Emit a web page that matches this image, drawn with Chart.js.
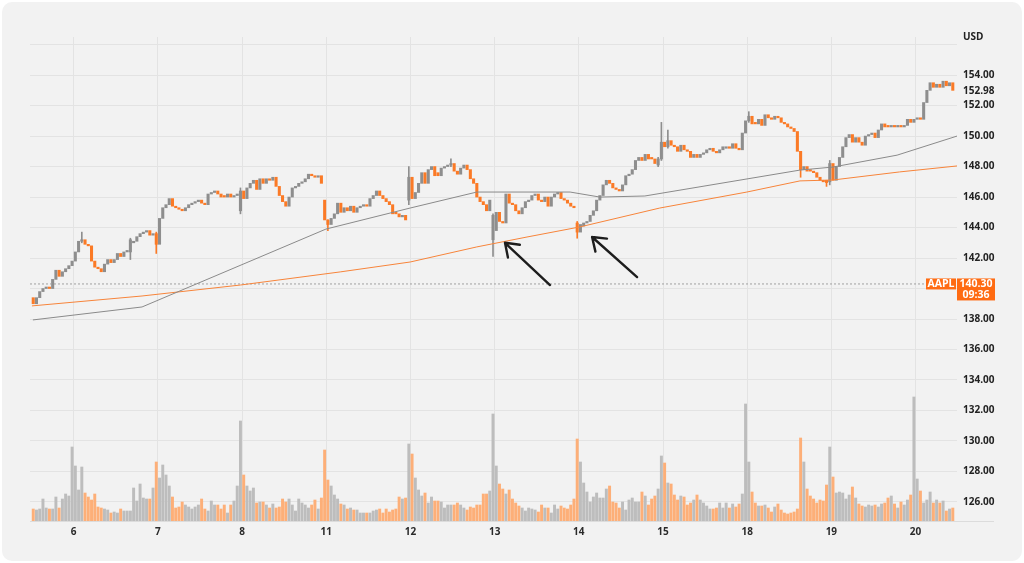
<!DOCTYPE html>
<html>
<head>
<meta charset="utf-8">
<title>AAPL 15 min</title>
<style>
  html, body { margin: 0; padding: 0; background: #fff; }
  .panel { position: absolute; left: 2px; top: 2px; width: 1020px; height: 559px; background: #f2f2f2; border-radius: 10px; }
  .chart-box { position: absolute; left: 0; top: 0; width: 1024px; height: 563px; }
</style>
</head>
<body>
<div class="panel"></div>
<div class="chart-box"><canvas id="priceChart"></canvas></div>

<script src="https://cdn.jsdelivr.net/npm/chart.js@4"></script>
<script>
// 15 minute candles, index 0 = first bar on screen (5th, afternoon)
const dayLabels = ['6', '7', '8', '11', '12', '13', '14', '15', '18', '19', '20'];
const dayTickPos = [12.5, 38.5, 64.5, 90.5, 116.5, 142.5, 168.5, 194.5, 220.5, 246.5, 272.5];

const opens = [
  139.4, 139.0, 139.4, 139.8, 140.0, 140.1, 140.0, 140.6, 141.2, 140.8, 141.1, 141.3,
  141.5, 141.8, 142.4, 143.1, 143.2, 142.9, 142.8, 141.8, 141.4, 141.3, 141.1, 141.6, 141.9, 141.7, 141.9, 142.3, 142.1, 142.4, 142.4, 143.0, 143.1, 143.4, 143.6, 143.7, 143.8, 143.5,
  143.6, 142.9, 144.6, 145.3, 145.5, 145.9, 145.4, 145.3, 145.2, 145.1, 145.3, 145.5, 145.6, 145.7, 145.8, 145.6, 145.5, 146.2, 146.3, 146.4, 146.2, 146.1, 146.0, 146.2, 146.0, 146.1,
  145.1, 146.4, 145.9, 146.6, 146.9, 147.1, 146.5, 147.2, 146.9, 147.2, 147.1, 147.3, 146.7, 146.1, 145.7, 145.4, 146.0, 146.6, 146.7, 146.9, 147.0, 147.2, 147.5, 147.4, 147.3, 147.4,
  145.8, 144.5, 144.2, 144.6, 144.9, 145.6, 145.0, 145.3, 145.1, 145.4, 145.0, 145.3, 145.4, 145.5, 145.4, 145.9, 146.1, 146.4, 146.1, 145.9, 145.7, 145.5, 145.0, 144.9, 144.7, 144.8,
  145.8, 147.3, 145.9, 146.3, 146.9, 147.6, 146.9, 147.8, 148.0, 147.6, 147.4, 147.9, 148.0, 148.1, 148.2, 147.7, 147.5, 147.9, 148.1, 147.8, 147.2, 146.9, 146.0, 145.7, 145.5, 145.1,
  143.2, 143.8, 145.0, 144.4, 144.3, 146.2, 145.6, 145.5, 145.1, 144.9, 145.3, 145.7, 145.8, 146.1, 146.2, 145.8, 145.7, 146.0, 145.4, 146.0, 146.2, 146.3, 145.9, 145.8, 145.6, 145.4,
  144.3, 143.7, 144.1, 144.3, 144.4, 144.8, 145.1, 145.8, 146.1, 146.8, 147.1, 146.9, 146.6, 146.5, 146.4, 146.8, 147.4, 147.5, 147.8, 148.4, 148.6, 148.4, 148.8, 148.6, 148.5, 148.1,
  148.5, 149.6, 149.3, 149.7, 149.4, 149.3, 149.0, 149.4, 149.1, 149.0, 148.6, 148.8, 148.6, 148.8, 148.9, 149.1, 149.2, 149.0, 148.9, 149.1, 149.2, 149.3, 149.2, 149.5, 149.2, 149.1,
  150.2, 151.0, 151.3, 150.9, 150.8, 151.1, 150.7, 151.4, 151.2, 151.1, 151.3, 151.2, 150.9, 150.8, 150.6, 150.5, 150.3, 149.0, 147.8, 148.0, 147.8, 147.7, 147.6, 147.3, 147.1, 147.1,
  147.0, 148.2, 147.1, 148.0, 148.6, 149.3, 149.9, 150.1, 149.6, 149.9, 149.6, 149.4, 150.0, 150.1, 150.2, 149.9, 150.4, 150.8, 150.7, 150.6, 150.7, 150.6, 150.7, 150.6, 150.7, 151.1,
  150.9, 151.1, 151.2, 151.1, 152.2, 153.0, 153.5, 153.2, 153.4, 153.2, 153.6, 153.3, 153.5
];

const closes = [
  139.0, 139.4, 139.8, 140.0, 140.1, 140.0, 140.6, 141.2, 140.8, 141.1, 141.3, 141.5,
  141.8, 142.4, 143.1, 143.2, 142.9, 142.8, 141.8, 141.4, 141.3, 141.1, 141.6, 141.9, 141.7, 141.9, 142.3, 142.1, 142.4, 142.5, 143.2, 143.1, 143.4, 143.6, 143.7, 143.8, 143.5, 143.6,
  142.9, 144.6, 145.3, 145.5, 145.9, 145.4, 145.3, 145.2, 145.1, 145.3, 145.5, 145.6, 145.7, 145.8, 145.6, 145.5, 146.2, 146.3, 146.4, 146.2, 146.0, 146.0, 146.2, 146.0, 146.1, 146.2,
  146.4, 145.9, 146.6, 146.9, 147.1, 146.5, 147.2, 146.9, 147.2, 147.1, 147.3, 146.7, 146.1, 145.7, 145.4, 146.0, 146.6, 146.7, 146.9, 147.0, 147.2, 147.5, 147.4, 147.3, 147.4, 146.9,
  144.5, 144.2, 144.6, 144.9, 145.6, 145.0, 145.3, 145.1, 145.4, 145.0, 145.3, 145.4, 145.5, 145.4, 145.9, 146.1, 146.4, 146.1, 145.9, 145.7, 145.5, 144.9, 144.9, 144.7, 144.8, 144.5,
  147.3, 145.9, 146.3, 146.9, 147.6, 146.9, 147.8, 148.0, 147.4, 147.4, 147.9, 148.0, 148.1, 148.2, 147.7, 147.5, 147.9, 148.1, 147.8, 147.2, 146.9, 146.0, 145.7, 145.5, 145.1, 145.8,
  144.8, 145.0, 144.4, 144.3, 146.2, 145.6, 145.5, 145.1, 144.9, 145.3, 145.7, 145.8, 146.1, 146.2, 145.8, 145.7, 146.0, 145.4, 146.0, 146.2, 146.3, 145.9, 145.8, 145.6, 145.4, 145.3,
  143.7, 144.2, 144.3, 144.4, 144.8, 145.1, 145.8, 146.1, 146.8, 147.1, 146.9, 146.6, 146.5, 146.4, 146.8, 147.4, 147.5, 147.8, 148.4, 148.6, 148.4, 148.8, 148.5, 148.5, 148.2, 148.5,
  149.6, 149.3, 149.7, 149.4, 149.3, 149.0, 149.4, 149.1, 149.0, 148.6, 148.8, 148.6, 148.8, 148.9, 149.1, 149.2, 149.0, 148.9, 149.1, 149.3, 149.3, 149.2, 149.5, 149.2, 149.1, 150.2,
  151.0, 151.3, 150.8, 150.8, 151.1, 150.7, 151.4, 151.2, 151.1, 151.3, 151.2, 150.9, 150.8, 150.6, 150.5, 150.3, 149.0, 147.8, 148.0, 147.7, 147.7, 147.6, 147.3, 147.1, 147.0, 146.95,
  148.2, 147.1, 148.0, 148.6, 149.3, 149.9, 150.1, 149.6, 149.9, 149.6, 149.4, 150.0, 150.1, 150.2, 149.9, 150.4, 150.8, 150.6, 150.6, 150.7, 150.6, 150.7, 150.6, 150.7, 151.1, 150.9,
  151.1, 151.2, 151.1, 152.2, 153.0, 153.5, 153.2, 153.4, 153.2, 153.6, 153.3, 153.5, 153.0
];

// candles with a visible shadow beyond the body
const wickIdx  = [15, 30, 38, 64, 91, 116, 129, 142, 168, 193, 194, 196, 221, 237, 245, 246];
const wickLow  = [143.0, 141.9, 142.3, 144.9, 143.8, 145.5, 148.0, 142.1, 143.3, 148.0, 148.4, 149.2, 150.9, 147.3, 146.7, 146.8];
const wickHigh = [143.7, 143.3, 143.7, 146.6, 144.5, 148.0, 148.5, 144.9, 144.4, 148.6, 150.9, 150.4, 151.6, 149.0, 147.1, 148.4];

// volume (10k shares)
const volumes = [
  12, 11, 12, 22, 13, 12, 12, 24, 13, 22, 27, 25,
  74, 55, 31, 54, 28, 24, 21, 27, 14, 13, 12, 11, 8, 9, 8, 12, 10, 10, 10, 33, 20, 37, 23, 22, 22, 33,
  59, 43, 56, 46, 35, 24, 13, 14, 19, 16, 14, 12, 14, 16, 22, 12, 10, 20, 16, 16, 12, 16, 8, 16, 20, 35,
  100, 46, 35, 30, 33, 18, 19, 19, 16, 13, 17, 13, 14, 22, 19, 22, 16, 10, 22, 18, 16, 13, 16, 21, 12, 23,
  71, 41, 35, 26, 22, 17, 16, 12, 13, 11, 11, 8, 8, 8, 8, 10, 11, 12, 8, 12, 9, 11, 12, 24, 22, 23,
  77, 67, 43, 31, 25, 28, 18, 24, 20, 20, 19, 13, 16, 16, 16, 18, 16, 13, 11, 14, 13, 16, 16, 27, 27, 30,
  107, 55, 37, 32, 27, 31, 22, 18, 15, 13, 10, 13, 12, 11, 9, 16, 13, 13, 8, 16, 12, 15, 13, 12, 16, 22,
  82, 59, 38, 29, 19, 24, 28, 23, 23, 32, 35, 19, 18, 13, 19, 11, 21, 23, 19, 19, 29, 25, 16, 22, 25, 32,
  65, 58, 38, 37, 26, 21, 25, 24, 16, 18, 21, 26, 21, 18, 15, 12, 12, 13, 18, 13, 18, 13, 17, 14, 17, 27,
  117, 59, 29, 18, 15, 15, 16, 13, 9, 14, 17, 11, 8, 7, 8, 9, 12, 83, 59, 32, 25, 22, 18, 21, 20, 36,
  74, 44, 28, 29, 28, 22, 26, 34, 23, 17, 15, 14, 16, 15, 16, 14, 17, 18, 23, 25, 17, 13, 19, 16, 21, 26,
  124, 42, 30, 18, 21, 29, 18, 21, 18, 20, 10, 12, 13
];

// moving averages, read at their corners
const slowMaIdx = [-0.1, 33.6, 90.4, 116.4, 137, 165.8, 175, 188.9, 236.8, 247, 266.8, 285.3];
const slowMa    = [137.94, 138.79, 143.90, 145.28, 146.33, 146.33, 146.0, 146.07, 147.77, 147.97, 148.75, 150.0];
const fastMaIdx = [-0.4, 33.6, 64, 94.8, 116.4, 137, 152.5, 168.8, 193.5, 220.4, 236.8, 247, 267.6, 285.3];
const fastMa    = [138.86, 139.51, 140.23, 141.09, 141.74, 142.73, 143.38, 144.04, 145.28, 146.33, 147.06, 147.12, 147.65, 148.04];

const yTicks = [126, 128, 130, 132, 134, 136, 138, 140, 142, 144, 146, 148, 150, 152, 152.98, 154, 156, 156.5];
const gridPrices = [126, 128, 130, 132, 134, 136, 138, 140, 142, 144, 146, 148, 150, 152, 154, 156];

const tagSymbol = 'AAPL';
const tagPrice = 140.30;
const tagTime = '09:36';

// arrows: [index, price]
const arrowTips  = [[145.7, 143.0], [172.6, 143.38]];
const arrowTails = [[159.6, 140.23], [186.5, 140.75]];

const GRAY = '#8e8e8e';
const ORANGE = '#fb7a26';
const VOL_GRAY = '#bdbdbd';
const VOL_ORANGE = '#fdaf78';

const isUp = closes.map((c, i) => c >= opens[i]);

const overlay = {
    id: 'overlay',
    afterDraw(chart) {
        const { ctx, chartArea, scales } = chart;
        const xs = scales.x, ys = scales.y;
        ctx.save();

        ctx.strokeStyle = '#dcdcdc';
        ctx.lineWidth = 1;
        ctx.beginPath();
        ctx.moveTo(chartArea.left, chartArea.bottom + 0.5);
        ctx.lineTo(chartArea.right + 37, chartArea.bottom + 0.5);
        ctx.stroke();

        ctx.strokeStyle = '#1d1d1d';
        ctx.lineWidth = 2.4;
        ctx.lineCap = 'round';
        arrowTips.forEach((tip, k) => {
            const tx = xs.getPixelForValue(tip[0]), ty = ys.getPixelForValue(tip[1]);
            const sx = xs.getPixelForValue(arrowTails[k][0]), sy = ys.getPixelForValue(arrowTails[k][1]);
            const ang = Math.atan2(sy - ty, sx - tx);
            ctx.beginPath();
            ctx.moveTo(sx, sy);
            ctx.lineTo(tx, ty);
            [-0.62, 0.62].forEach(d => {
                ctx.moveTo(tx, ty);
                ctx.lineTo(tx + 15 * Math.cos(ang + d), ty + 15 * Math.sin(ang + d));
            });
            ctx.stroke();
        });

        // last price tag on the axis
        const py = ys.getPixelForValue(tagPrice);
        ctx.fillStyle = '#ff6b12';
        ctx.fillRect(chartArea.right - 31, py - 5.5, 30, 11);
        ctx.fillRect(chartArea.right, py - 5.5, 38, 22);
        ctx.fillStyle = '#fff';
        ctx.font = 'bold 10.5px "Open Sans", sans-serif';
        ctx.textBaseline = 'middle';
        ctx.textAlign = 'center';
        ctx.fillText(tagSymbol, chartArea.right - 16, py + 0.5);
        ctx.fillText(tagPrice.toFixed(2), chartArea.right + 19, py + 0.5);
        ctx.fillText(tagTime, chartArea.right + 19, py + 11);
        ctx.restore();
    }
};

Chart.defaults.font.family = "'Open Sans', sans-serif";

const ctx = document.getElementById('priceChart').getContext('2d');
const chart = new Chart(ctx, {
    type: 'bar',
    data: {
        datasets: [
            {
                type: 'line',
                label: 'MA slow',
                data: slowMaIdx.map((x, k) => ({ x: x, y: slowMa[k] })),
                borderColor: '#8a8a8a',
                borderWidth: 1,
                pointRadius: 0,
                order: 0
            },
            {
                type: 'line',
                label: 'MA fast',
                data: fastMaIdx.map((x, k) => ({ x: x, y: fastMa[k] })),
                borderColor: '#f7843a',
                borderWidth: 1,
                pointRadius: 0,
                order: 0
            },
            {
                type: 'line',
                label: 'Last',
                data: [{ x: -1, y: tagPrice }, { x: 285.3, y: tagPrice }],
                borderColor: '#a0a0a0',
                borderWidth: 1,
                borderDash: [2, 2],
                pointRadius: 0,
                order: 1
            },
            {
                label: 'Body',
                data: closes.map((c, i) => ({ x: i, y: [opens[i], c] })),
                backgroundColor: isUp.map(u => u ? GRAY : ORANGE),
                barThickness: 2.4,
                minBarLength: 1,
                grouped: false,
                order: 2
            },
            {
                label: 'Wick',
                data: wickIdx.map((i, k) => ({ x: i, y: [wickLow[k], wickHigh[k]] })),
                backgroundColor: wickIdx.map(i => isUp[i] ? GRAY : ORANGE),
                barThickness: 1,
                grouped: false,
                order: 3
            },
            {
                label: 'Volume',
                data: volumes.map((v, i) => ({ x: i, y: v })),
                backgroundColor: isUp.map(u => u ? VOL_GRAY : VOL_ORANGE),
                barThickness: 2.3,
                grouped: false,
                yAxisID: 'yv',
                order: 4
            }
        ]
    },
    options: {
        responsive: true,
        maintainAspectRatio: false,
        animation: false,
        layout: { padding: { left: 30, top: 37, right: 0, bottom: 0 } },
        plugins: {
            legend: { display: false },
            tooltip: { enabled: false }
        },
        scales: {
            x: {
                type: 'linear',
                min: -1,
                max: 285.3,
                offset: false,
                afterBuildTicks: s => { s.ticks = dayTickPos.map(v => ({ value: v })); },
                afterFit: s => { s.height = 42; },
                grid: { color: '#e3e3e3', drawTicks: false, offset: false },
                border: { display: false },
                ticks: {
                    autoSkip: false,
                    maxRotation: 0,
                    padding: 5,
                    color: '#2a2a2a',
                    font: { size: 10, weight: 'bold' },
                    callback: (v, k) => dayLabels[k]
                }
            },
            y: {
                position: 'right',
                min: 124.75,
                max: 156.5,
                afterBuildTicks: s => { s.ticks = yTicks.map(v => ({ value: v })); },
                afterFit: s => { s.width = 67; },
                grid: {
                    drawTicks: false,
                    color: c => (c.tick && gridPrices.includes(c.tick.value)) ? '#e3e3e3' : 'rgba(0,0,0,0)'
                },
                border: { display: false },
                ticks: {
                    autoSkip: false,
                    padding: 6,
                    color: '#222',
                    font: { size: 10, weight: 'bold' },
                    callback: v => v === 156.5 ? 'USD' : (v === 156 || v === 140) ? '' : v.toFixed(2)
                }
            },
            yv: {
                display: false,
                min: 0,
                max: 484
            }
        }
    },
    plugins: [overlay]
});
</script>
</body>
</html>
